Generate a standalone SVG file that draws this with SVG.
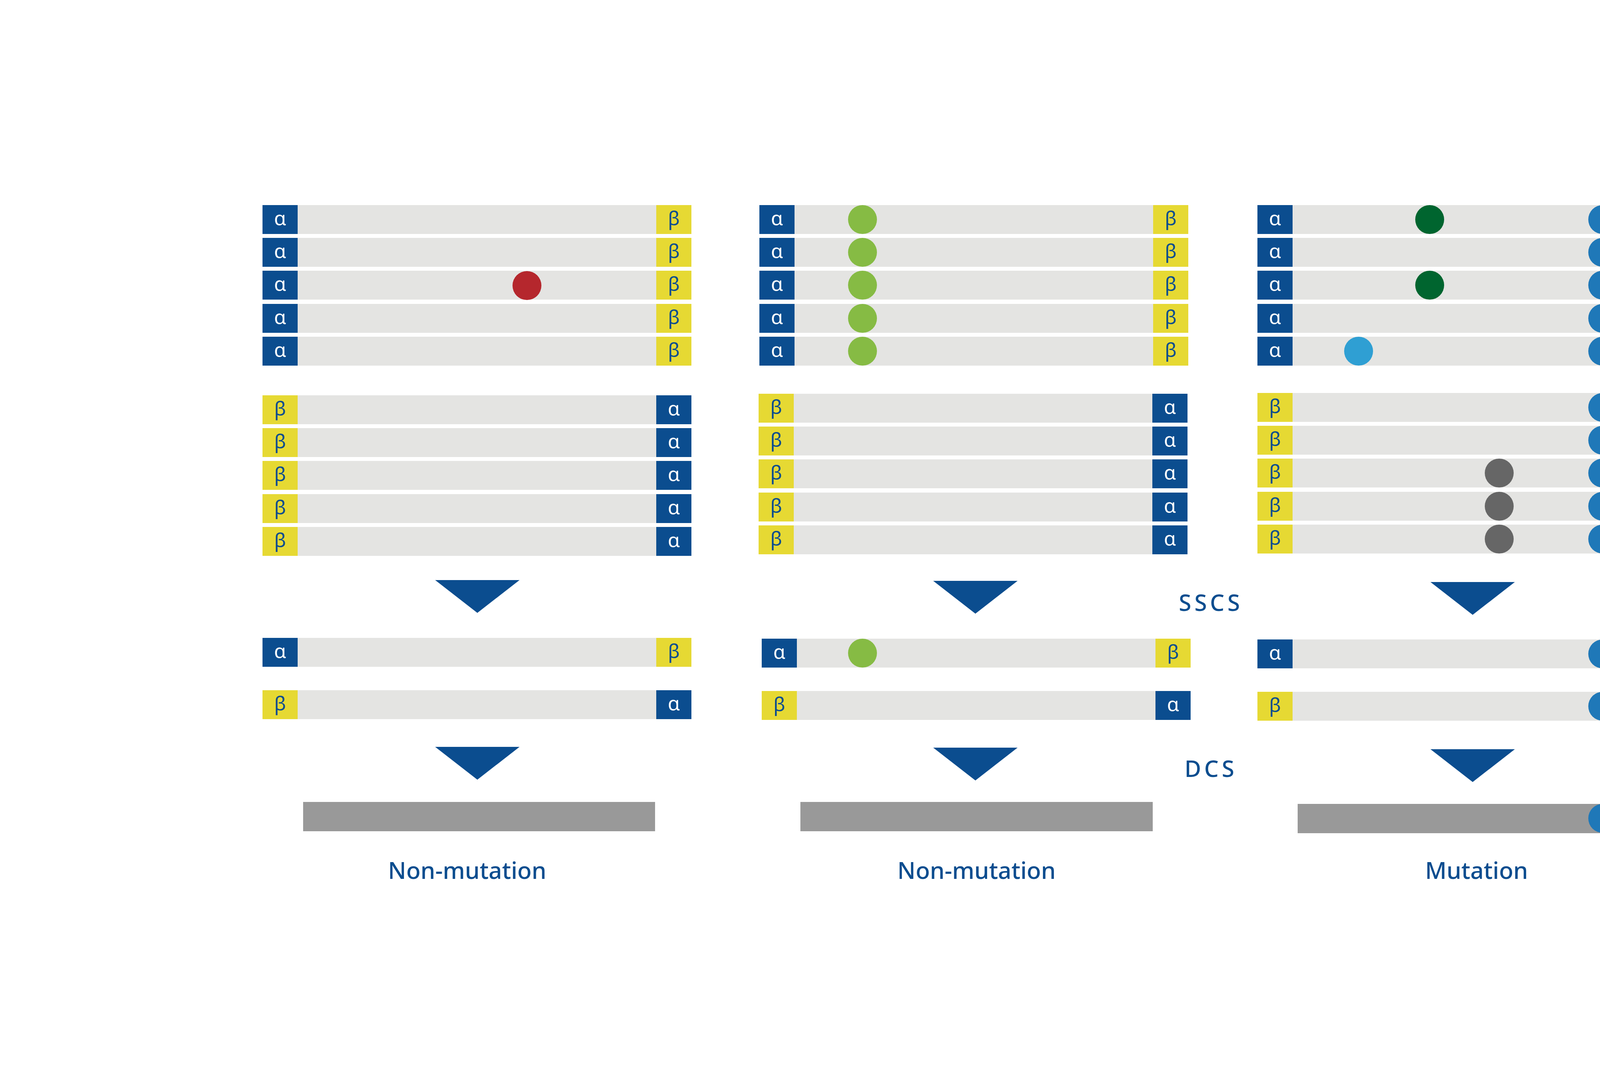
<svg xmlns="http://www.w3.org/2000/svg" width="4956" height="2793" viewBox="0 0 4956 2793">
<style>
.s{fill:#e4e4e2}.a{fill:#0b4d8f}.b{fill:#e6d933}
.ta{fill:#fff;font-family:"Noto Sans","DejaVu Sans",sans-serif;font-size:50px;text-anchor:middle}
.tb{fill:#0b4d8f;font-family:"Noto Sans","DejaVu Sans",sans-serif;font-size:50px;text-anchor:middle}
.lbl{fill:#0b4d8f;font-family:"Noto Sans","DejaVu Sans",sans-serif;font-size:60px;font-weight:500;text-anchor:middle}
.st{fill:#0b4d8f;font-family:"Noto Sans","DejaVu Sans",sans-serif;font-size:58px;font-weight:500;letter-spacing:8px;text-anchor:middle}
.bar{fill:#999}
</style>
<defs>
<g id="ab"><rect class="s" x="0" y="0" width="1098" height="74"/><rect class="a" x="0" y="0" width="90" height="74"/><rect class="b" x="1008" y="0" width="90" height="74"/><text class="ta" x="45" y="52">α</text><text class="tb" x="1053" y="52">β</text></g>
<g id="ba"><rect class="s" x="0" y="0" width="1098" height="74"/><rect class="b" x="0" y="0" width="90" height="74"/><rect class="a" x="1008" y="0" width="90" height="74"/><text class="tb" x="45" y="52">β</text><text class="ta" x="1053" y="52">α</text></g>
<polygon id="arr" points="-108,0 108,0 0,84" fill="#0b4d8f"/>
</defs>
<g id="panel1">
<use href="#ab" x="672" y="525"/><use href="#ab" x="672" y="609"/><use href="#ab" x="672" y="693"/><use href="#ab" x="672" y="778"/><use href="#ab" x="672" y="862"/>
<circle cx="1349" cy="731" r="37" fill="#b5272d"/>
<use href="#ba" x="672" y="1012"/><use href="#ba" x="672" y="1096"/><use href="#ba" x="672" y="1180"/><use href="#ba" x="672" y="1265"/><use href="#ba" x="672" y="1349"/>
<use href="#ab" x="672" y="1633"/><use href="#ba" x="672" y="1767"/>
<rect class="bar" x="776" y="2053" width="901" height="75"/>
<text class="lbl" x="1196" y="2250">Non-mutation</text>
</g>
<g id="panel2">
<use href="#ab" x="1944" y="525"/><use href="#ab" x="1944" y="609"/><use href="#ab" x="1944" y="693"/><use href="#ab" x="1944" y="778"/><use href="#ab" x="1944" y="862"/>
<g fill="#86bb44"><circle cx="2208" cy="562" r="37"/><circle cx="2208" cy="646" r="37"/><circle cx="2208" cy="730" r="37"/><circle cx="2208" cy="815" r="37"/><circle cx="2208" cy="899" r="37"/></g>
<use href="#ba" x="1942" y="1008"/><use href="#ba" x="1942" y="1092"/><use href="#ba" x="1942" y="1176"/><use href="#ba" x="1942" y="1261"/><use href="#ba" x="1942" y="1345"/>
<use href="#ab" x="1950" y="1635"/><use href="#ba" x="1950" y="1769"/>
<circle cx="2208" cy="1672" r="37" fill="#86bb44"/>
<rect class="bar" x="2049" y="2053" width="902" height="75"/>
<text class="lbl" x="2500" y="2250">Non-mutation</text>
</g>
<g id="panel3">
<use href="#ab" x="3219" y="525"/><use href="#ab" x="3219" y="609"/><use href="#ab" x="3219" y="693"/><use href="#ab" x="3219" y="778"/><use href="#ab" x="3219" y="862"/>
<g fill="#00652f"><circle cx="3660" cy="562" r="37"/><circle cx="3660" cy="730" r="37"/></g>
<circle cx="3478" cy="899" r="37" fill="#2f9fd3"/>
<use href="#ba" x="3219" y="1006"/><use href="#ba" x="3219" y="1090"/><use href="#ba" x="3219" y="1174"/><use href="#ba" x="3219" y="1259"/><use href="#ba" x="3219" y="1343"/>
<g fill="#666"><circle cx="3838" cy="1211" r="37"/><circle cx="3838" cy="1296" r="37"/><circle cx="3838" cy="1380" r="37"/></g>
<use href="#ab" x="3219" y="1637"/><use href="#ba" x="3219" y="1771"/>
<rect class="bar" x="3322" y="2058" width="905" height="75"/>
<g fill="#1f78b8"><circle cx="4103" cy="562" r="37"/><circle cx="4103" cy="646" r="37"/><circle cx="4103" cy="730" r="37"/><circle cx="4103" cy="815" r="37"/><circle cx="4103" cy="899" r="37"/>
<circle cx="4103" cy="1043" r="37"/><circle cx="4103" cy="1127" r="37"/><circle cx="4103" cy="1211" r="37"/><circle cx="4103" cy="1296" r="37"/><circle cx="4103" cy="1380" r="37"/>
<circle cx="4103" cy="1674" r="37"/><circle cx="4103" cy="1808" r="37"/><circle cx="4103" cy="2095" r="37"/></g>
<text class="lbl" x="3780" y="2250">Mutation</text>
</g>
<g id="connectors">
<use href="#arr" x="1222" y="1485"/><use href="#arr" x="2497" y="1487"/><use href="#arr" x="3770" y="1490"/>
<use href="#arr" x="1222" y="1912"/><use href="#arr" x="2497" y="1914"/><use href="#arr" x="3770" y="1918"/>
</g>
<text class="st" x="3100" y="1564">SSCS</text>
<text class="st" x="3100" y="1989">DCS</text>
</svg>
